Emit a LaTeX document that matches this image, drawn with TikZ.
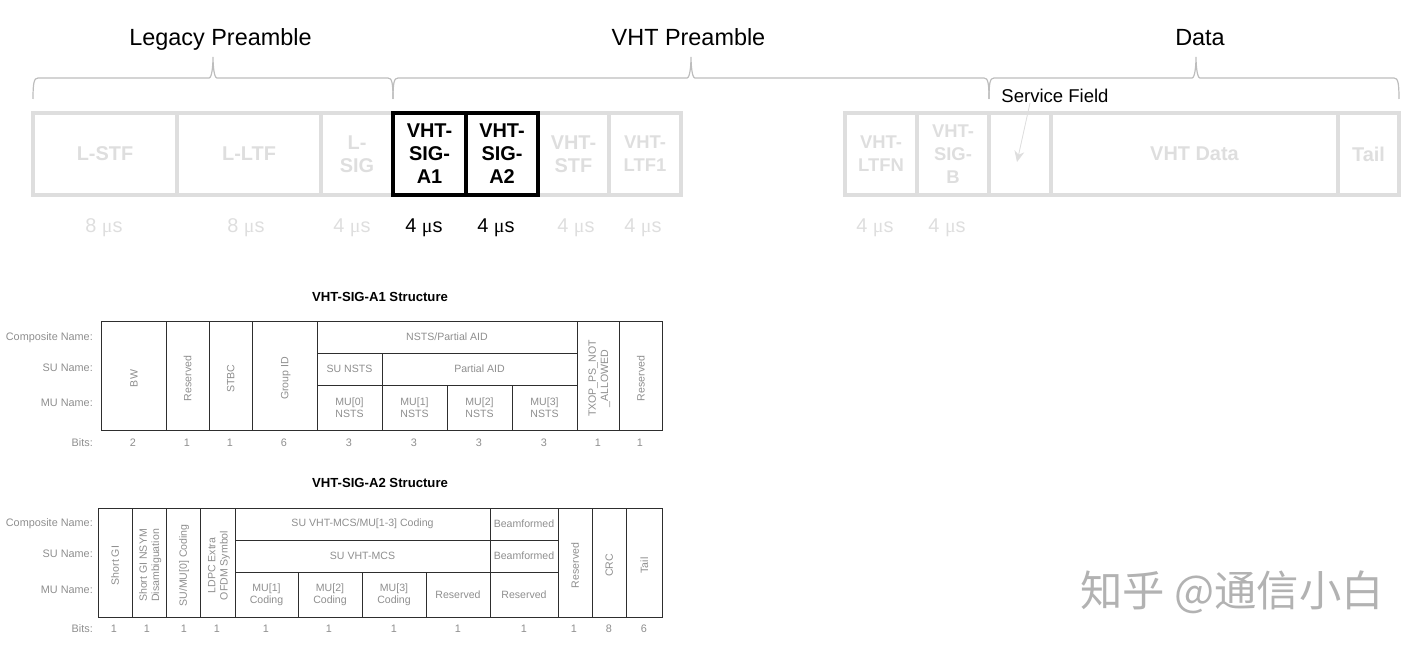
\documentclass[tikz,border=0pt]{standalone}
\usepackage{fontspec}
\setmainfont{Liberation Sans}
\newfontfamily\mufont{Liberation Serif}
\newfontfamily\cjkfont{Noto Sans CJK SC}
\usetikzlibrary{arrows.meta, positioning}
\definecolor{fadegray}{HTML}{DEDEDE}
\definecolor{bracegray}{HTML}{BDBDBD}
\definecolor{labelgray}{HTML}{8E8E8E}
\definecolor{cellline}{HTML}{2E2E2E}
\newcommand{\usec}{{\mufont μ}s}
\newcommand{\lowered}[1]{\raisebox{0pt}[\dimexpr\height+3bp\relax][\depth]{\begin{tabular}{@{}c@{\hspace{6bp}}}#1\end{tabular}}}
\tikzset{
  fieldbox/.style={draw=fadegray, line width=3.3bp, text=fadegray, inner sep=0pt, outer sep=0pt,
    minimum height=82bp, align=center, font=\fontsize{20}{23}\selectfont\bfseries},
  sigbox/.style={fieldbox, draw=black, text=black},
  smallbox/.style={fieldbox, font=\fontsize{18.5}{23}\selectfont\bfseries},
  heading/.style={anchor=base, font=\fontsize{23.5}{28}\selectfont, inner sep=0pt},
  timelabel/.style={anchor=base, font=\fontsize{20}{24}\selectfont, text=fadegray, inner sep=0pt},
  bracket/.style={draw=bracegray, line width=1.2bp},
  cell/.style={draw=cellline, line width=0.9bp, text=labelgray, inner sep=0pt, outer sep=0pt,
    align=center, font=\fontsize{10.6}{12.5}\selectfont},
  rowlabel/.style={anchor=east, text=labelgray, inner sep=0pt, font=\fontsize{10.9}{13}\selectfont},
  title/.style={inner sep=0pt, font=\fontsize{13.2}{16}\selectfont\bfseries}
}
\begin{document}
\begin{tikzpicture}[x=1bp, y=-1bp]
  \useasboundingbox (0,0) rectangle (1422,648);

  % headings and braces
  \node [heading] (legacy) at (220.5,46) {Legacy Preamble};
  \node [heading] (vhtpre) at (688.5,46) {VHT Preamble};
  \node [heading] (datahd) at (1200,46) {Data};
  \foreach \xa/\xm/\xb in {33/213/393, 393/691/989, 989/1196/1399} {
    \draw [bracket] (\xa,99) .. controls +(0,-16) and +(-4,0) .. (\xa+5,78) -- (\xm-4,78)
      .. controls +(3,0) and +(0,8) .. (\xm,57) .. controls +(0,8) and +(-3,0) .. (\xm+4,78)
      -- (\xb-5,78) .. controls +(4,0) and +(0,-16) .. (\xb,99);
  }

  % top row
  \node [fieldbox, minimum width=144bp] (lstf) at (105,154) {L-STF};
  \node [fieldbox, minimum width=144bp, right=0pt of lstf] (lltf) {L-LTF};
  \node [fieldbox, minimum width=72bp, right=0pt of lltf] (lsig) {L-\\SIG};
  \node [fieldbox, minimum width=71bp, right=145bp of lsig] (vhtstf) {VHT-\\STF};
  \node [smallbox, minimum width=72bp, right=0pt of vhtstf] (vhtltfa) {VHT-\\LTF1};
  \node [sigbox, minimum width=73bp, right=0pt of lsig] (sigaone) {VHT-\\SIG-\\A1};
  \node [sigbox, minimum width=72bp, right=0pt of sigaone] (sigatwo) {VHT-\\SIG-\\A2};

  \node [smallbox, minimum width=72bp] (vhtltfn) at (881,154) {VHT-\\LTFN};
  \node [smallbox, minimum width=72bp, right=0pt of vhtltfn] (vhtsigb) {VHT-\\SIG-\\B};
  \node [fieldbox, minimum width=62bp, right=0pt of vhtsigb] (service) {};
  \node [fieldbox, minimum width=287bp, right=0pt of service] (vhtdata) {VHT Data};
  \node [fieldbox, minimum width=61bp, right=0pt of vhtdata] (tail) {Tail};

  \node [inner sep=0pt, font=\fontsize{18.6}{22}\selectfont] (svclabel) at (1055,96) {Service Field};
  \coordinate (svcend) at (1017,162);
  \draw [-{Stealth[length=11bp,width=10bp]}, draw=fadegray, fill=fadegray, line width=0.8bp]
    ([xshift=-25bp]svclabel.south) -- (svcend);

  % durations
  \foreach \nm/\xc/\txt in {ta/104/8, tb/246/8, tc/352/4, td/576/4, te/643/4, tf/875/4, tg/947/4} {
    \node [timelabel] (\nm) at (\xc,232) {\txt{} \usec};
  }
  \node [timelabel, text=black] (tsiga) at (424,232) {4 \usec};
  \node [timelabel, text=black] (tsigb) at (496,232) {4 \usec};

  % VHT-SIG-A1
  \node [title] (titlea) at (380,297) {VHT-SIG-A1 Structure};
  \foreach \nm/\ya/\txt in {ca/338/Composite Name:, sa/368/SU Name:, ma/403/MU Name:, ba/443/Bits:,
                            cb/524/Composite Name:, sb/554/SU Name:, mb/590/MU Name:, bb/629/Bits:} {
    \node [rowlabel] (\nm) at (93,\ya) {\txt};
  }
  \foreach \nm/\xa/\ya/\xb/\yb/\txt in {
      nsts/317/321/577/353/{NSTS/Partial AID},
      sunsts/317/353/382/385/SU NSTS,
      paid/382/353/577/385/Partial AID,
      muz/317/385/382/430/{MU[0]\\NSTS},
      mua/382/385/447/430/{MU[1]\\NSTS},
      mub/447/385/512/430/{MU[2]\\NSTS},
      muc/512/385/577/430/{MU[3]\\NSTS},
      % VHT-SIG-A2
      sucomp/235/508/490/540/{SU VHT-MCS/MU[1-3] Coding},
      bfa/490/508/558/540/Beamformed,
      suvht/235/540/490/572/SU VHT-MCS,
      bfb/490/540/558/572/Beamformed,
      cda/235/572/298/617/{MU[1]\\Coding},
      cdb/298/572/362/617/{MU[2]\\Coding},
      cdc/362/572/426/617/{MU[3]\\Coding},
      rsa/426/572/490/617/Reserved,
      rsb/490/572/558/617/Reserved} {
    \node [cell, minimum width={(\xb-\xa)*1bp}, minimum height={(\yb-\ya)*1bp}]
      (\nm) at ({(\xa+\xb)/2},{(\ya+\yb)/2}) {\txt};
  }
  \foreach \nm/\xa/\ya/\xb/\yb/\txt in {
      bw/101.5/321/166/430/BW,
      rsc/166/321/209/430/Reserved,
      stbc/209/321/252/430/STBC,
      group/252/321/317/430/Group ID,
      txop/577/321/619/430/{TXOP\_PS\_NOT\\\_ALLOWED},
      rsd/619/321/662/430/Reserved,
      sgi/98/508/132/617/Short GI,
      nsym/132/508/166/617/{Short GI NSYM\\Disambiguation},
      sumu/166/508/200/617/{SU/MU[0] Coding},
      ldpc/200/508/235/617/{LDPC Extra\\OFDM Symbol},
      rse/558/508/592/617/Reserved,
      crc/592/508/626/617/CRC,
      tailb/626/508/662/617/Tail} {
    \node [cell, rotate=90, minimum width={(\yb-\ya)*1bp}, minimum height={(\xb-\xa)*1bp}]
      (\nm) at ({(\xa+\xb)/2},{(\ya+\yb)/2}) {\lowered{\txt}};
  }
  \foreach \nm/\xc/\txt in {ga/133/2, gb/187/1, gc/230/1, gd/284/6, ge/349/3, gf/414/3, gg/479/3, gh/544/3, gi/598/1, gj/640/1} {
    \node [rowlabel, anchor=center] (\nm) at (\xc,443) {\txt};
  }

  \node [title] (titleb) at (380,483) {VHT-SIG-A2 Structure};
  \foreach \nm/\xc/\txt in {ha/114/1, hb/147/1, hc/184/1, hd/217/1, he/266/1, hf/329/1, hg/394/1, hh/458/1, hi/524/1, hj/574/1, hk/609/8, hl/644/6} {
    \node [rowlabel, anchor=center] (\nm) at (\xc,629) {\txt};
  }

  \node [inner sep=0pt, text=black!30, font=\cjkfont\fontsize{42.5}{50}\selectfont] (mark) at (1232,592) {知乎 @通信小白};
\end{tikzpicture}
\end{document}
